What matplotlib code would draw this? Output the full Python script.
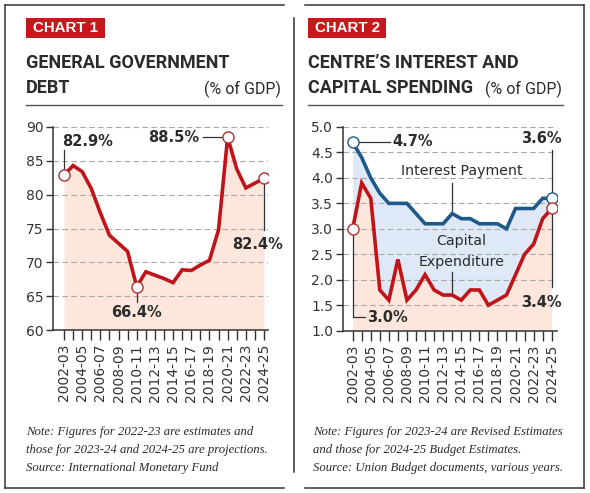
import matplotlib.pyplot as plt
from matplotlib.lines import Line2D
from matplotlib.patches import Rectangle

years = ['2002-03', '2003-04', '2004-05', '2005-06', '2006-07', '2007-08',
         '2008-09', '2009-10', '2010-11', '2011-12', '2012-13', '2013-14',
         '2014-15', '2015-16', '2016-17', '2017-18', '2018-19', '2019-20',
         '2020-21', '2021-22', '2022-23', '2023-24', '2024-25']
debt = [82.9, 84.3, 83.4, 80.9, 77.3, 74.0, 72.8, 71.6, 66.4, 68.6, 68.1, 67.6,
        67.0, 68.9, 68.8, 69.6, 70.3, 74.8, 88.5, 83.8, 81.0, 81.7, 82.4]
interest = [4.7, 4.4, 4.0, 3.7, 3.5, 3.5, 3.5, 3.3, 3.1, 3.1, 3.1, 3.3,
            3.2, 3.2, 3.1, 3.1, 3.1, 3.0, 3.4, 3.4, 3.4, 3.6, 3.6]
capex = [3.0, 3.9, 3.6, 1.8, 1.6, 2.4, 1.6, 1.8, 2.1, 1.8, 1.7, 1.7,
         1.6, 1.8, 1.8, 1.5, 1.6, 1.7, 2.1, 2.5, 2.7, 3.2, 3.4]
x = list(range(len(years)))

RED = '#c0141b'
BLUE = '#1d5a8a'
PINK = '#fde7dd'
LBLUE = '#dfe8f6'
INK = '#2b2b2b'
GRID = '#a8a8a8'
TITLE_FONT = ['Roboto', 'DejaVu Sans']
NOTE_FONT = ['Liberation Serif', 'DejaVu Serif']

W, H = 590, 493
fig = plt.figure(figsize=(W / 100, H / 100), dpi=100)
fig.patch.set_facecolor('white')


def fx(px):
    return px / W


def fy(py):
    return 1 - py / H


def fline(x0, y0, x1, y1, color='#333333', lw=1.1):
    fig.add_artist(Line2D([fx(x0), fx(x1)], [fy(y0), fy(y1)],
                          transform=fig.transFigure, color=color, lw=lw))


# panel frames
fline(5, 5, 284, 5)
fline(5, 5, 5, 488)
fline(5, 488, 284, 488)
fline(294, 18, 294, 472)
fline(305, 5, 584, 5)
fline(584, 5, 584, 488)
fline(305, 488, 584, 488)


def header(x0, x1, label, line1, line2, rule_end):
    fig.add_artist(Rectangle((fx(x0), fy(38)), (x1 - x0) / W, 20 / H,
                             transform=fig.transFigure, color='#c8161d', lw=0))
    fig.text(fx((x0 + x1) / 2), fy(28.5), label, color='white', ha='center',
             va='center', fontsize=10.8, fontweight='bold',
             family=['Liberation Sans', 'DejaVu Sans'])
    fig.text(fx(x0), fy(68), line1, color=INK, fontsize=13,
             fontweight='bold', family=TITLE_FONT, va='baseline')
    fig.text(fx(x0), fy(93), line2, color=INK, fontsize=13,
             fontweight='bold', family=TITLE_FONT, va='baseline')
    fig.text(fx(rule_end - 1), fy(94), '(% of GDP)', color=INK, fontsize=11.5,
             family=TITLE_FONT, va='baseline', ha='right')
    fline(x0, 105, rule_end, 105, color='#555555', lw=1.0)


header(26, 105, 'CHART 1', 'GENERAL GOVERNMENT', 'DEBT', 282)
header(308, 386, 'CHART 2', 'CENTRE\u2019S INTEREST AND', 'CAPITAL SPENDING', 563)


def style_axes(ax, yticks, fmt):
    for s in ['top', 'right']:
        ax.spines[s].set_visible(False)
    for s in ['left', 'bottom']:
        ax.spines[s].set_color('#333333')
        ax.spines[s].set_linewidth(1.1)
    ax.set_yticks(yticks)
    ax.set_yticklabels([fmt.format(v) for v in yticks])
    ax.set_xticks(x[::2])
    ax.set_xticklabels(years[::2], rotation=90)
    ax.set_xticks(x[1::2], minor=True)
    ax.tick_params(axis='y', length=5, width=1, pad=2, labelsize=10,
                   colors='#333333')
    ax.tick_params(axis='x', which='both', length=7, width=1, pad=3,
                   labelsize=10, colors='#333333')
    for v in yticks[1:]:
        ax.axhline(v, color=GRID, lw=0.8, dashes=(5, 3), zorder=1)
    ax.set_facecolor('none')


# ---- chart 1
ax1 = fig.add_axes([fx(53), fy(330), 215 / W, 203 / H])
ax1.set_xlim(-1.21, 22.44)
ax1.set_ylim(60, 90)
style_axes(ax1, [60, 65, 70, 75, 80, 85, 90], '{:.0f}')
ax1.fill_between(x, debt, 60, color=PINK, lw=0, zorder=0)
ax1.plot(x, debt, color=RED, lw=2.6, solid_joinstyle='miter', zorder=3)

ann = dict(fontsize=10.5, fontweight='bold', color=INK, family='DejaVu Sans')
lead = dict(color='#333333', lw=0.9, zorder=2)
ax1.plot([0, 0], [debt[0], 86.6], **lead)
ax1.text(2.6, 87.9, '82.9%', ha='center', va='center', **ann)
ax1.plot([15.3, 18], [debt[18], debt[18]], **lead)
ax1.text(14.9, 88.4, '88.5%', ha='right', va='center', **ann)
ax1.plot([22, 22], [debt[22], 74.8], **lead)
ax1.text(21.3, 72.6, '82.4%', ha='center', va='center', clip_on=False, **ann)
ax1.plot([8, 8], [debt[8], 64.1], **lead)
ax1.text(7.97, 62.65, '66.4%', ha='center', va='center', **ann)
for i in [0, 8, 18, 22]:
    ax1.plot(x[i], debt[i], 'o', ms=8, mfc='white', mec='#b03030', mew=1,
             zorder=4)

# ---- chart 2
ax2 = fig.add_axes([fx(342.7), fy(330.7), 214 / W, 203.7 / H])
ax2.set_xlim(-1.1, 22.55)
ax2.set_ylim(1.0, 5.0)
style_axes(ax2, [1.0, 1.5, 2.0, 2.5, 3.0, 3.5, 4.0, 4.5, 5.0], '{:.1f}')
ax2.fill_between(x, capex, 1.0, color=PINK, lw=0, zorder=0)
ax2.fill_between(x, capex, interest, color=LBLUE, lw=0, zorder=0)
ax2.plot(x, interest, color=BLUE, lw=2.6, solid_joinstyle='miter', zorder=3)
ax2.plot(x, capex, color=RED, lw=2.6, solid_joinstyle='miter', zorder=3)

ax2.plot([0, 4.1], [interest[0], interest[0]], **lead)
ax2.text(4.35, 4.725, '4.7%', ha='left', va='center', **ann)
ax2.plot([22, 22], [interest[22], 4.55], **lead)
ax2.text(23.1, 4.78, '3.6%', ha='right', va='center', clip_on=False, **ann)
ax2.plot([11, 11], [interest[11], 3.9], **lead)
ax2.text(12.1, 4.14, 'Interest Payment', ha='center', va='center',
         fontsize=10.2, color=INK)
ax2.plot([11, 11], [capex[11], 2.15], **lead)
ax2.text(12.0, 2.76, 'Capital', ha='center', va='center', fontsize=10.2,
         color=INK)
ax2.text(12.0, 2.35, 'Expenditure', ha='center', va='center', fontsize=10.2,
         color=INK)
ax2.plot([0, 0, 1.36], [capex[0], 1.27, 1.27], **lead)
ax2.text(1.58, 1.25, '3.0%', ha='left', va='center', **ann)
ax2.plot([22, 22], [capex[22], 1.86], **lead)
ax2.text(23.1, 1.56, '3.4%', ha='right', va='center', clip_on=False, **ann)
for i in [0, 22]:
    ax2.plot(x[i], interest[i], 'o', ms=8, mfc='white', mec=BLUE, mew=1,
             zorder=4)
    ax2.plot(x[i], capex[i], 'o', ms=8, mfc='white', mec='#b03030', mew=1,
             zorder=4)

# ---- notes
note = dict(fontsize=9.2, style='italic', color=INK, family=NOTE_FONT,
            va='baseline')
notes1 = ['Note: Figures for 2022-23 are estimates and',
          'those for 2023-24 and 2024-25 are projections.',
          'Source: International Monetary Fund']
notes2 = ['Note: Figures for 2023-24 are Revised Estimates',
          'and those for 2024-25 Budget Estimates.',
          'Source: Union Budget documents, various years.']
for k, (a, b) in enumerate(zip(notes1, notes2)):
    fig.text(fx(26), fy(435 + 18 * k), a, **note)
    fig.text(fx(313), fy(435 + 18 * k), b, **note)

fig.savefig('out.png', dpi=100, facecolor='white')
